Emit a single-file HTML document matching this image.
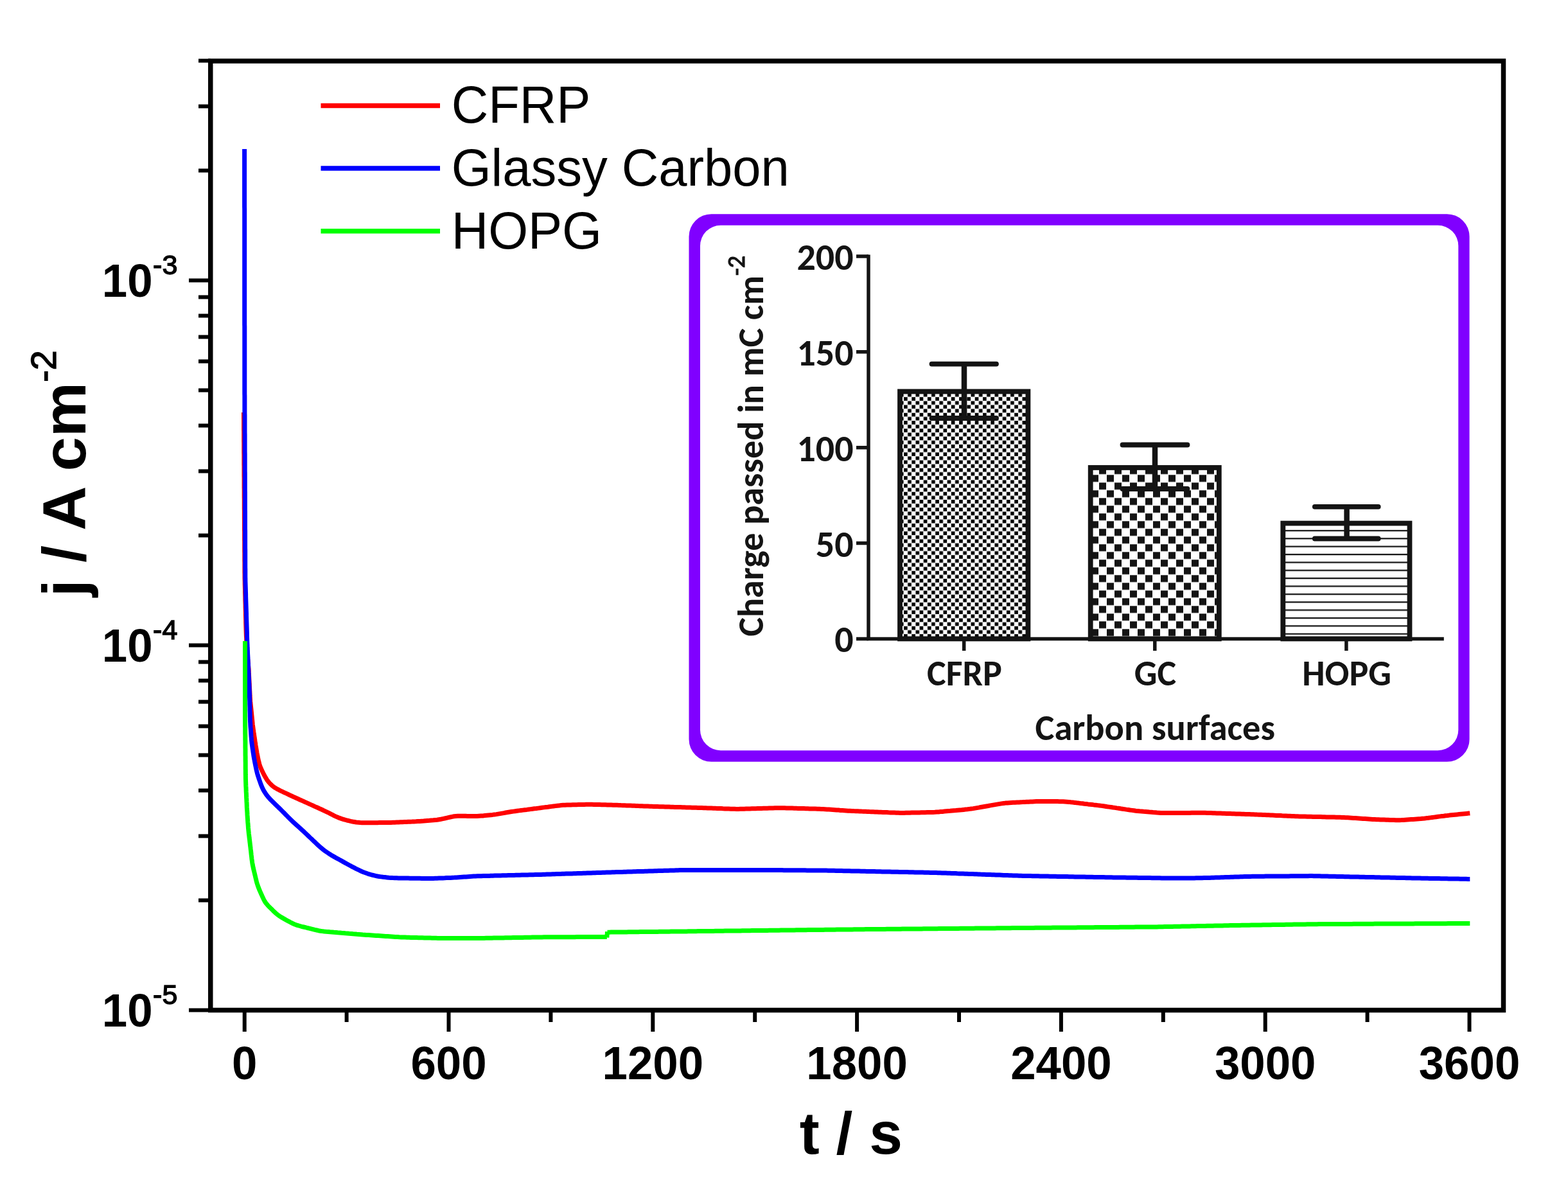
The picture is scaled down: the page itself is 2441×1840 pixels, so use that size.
<!DOCTYPE html><html><head><meta charset="utf-8"><style>html,body{margin:0;padding:0;background:#fff;}svg{display:block;}</style></head><body><svg width="2441" height="1840" viewBox="0 0 2441 1840">
<defs>
<pattern id="pCF" patternUnits="userSpaceOnUse" x="1407" y="704.3" width="12.3" height="12.3"><rect width="12.3" height="12.3" fill="#fff"/><rect x="0" y="0" width="5.7" height="5.6" fill="#000"/><rect x="6.15" y="6.15" width="5.7" height="5.6" fill="#000"/></pattern>
<pattern id="pGC" patternUnits="userSpaceOnUse" x="1711" y="751.3" width="24" height="24"><rect width="24" height="24" fill="#fff"/><rect x="0" y="0" width="11" height="10.8" fill="#141414"/><rect x="12" y="12" width="11" height="10.8" fill="#141414"/></pattern>
<pattern id="pHO" patternUnits="userSpaceOnUse" x="0" y="824.9" width="50" height="12.37"><rect width="50" height="12.37" fill="#fff"/><rect x="0" y="-0.15" width="50" height="2.4" fill="#141414"/></pattern>
</defs>
<rect width="2441" height="1840" fill="#fff"/>
<path d="M379.5,642.0 L379.5,645.0 L379.5,648.0 L379.5,651.0 L379.6,654.0 L379.6,657.0 L379.6,660.0 L379.6,663.0 L379.6,666.0 L379.6,669.0 L379.7,672.0 L379.7,675.0 L379.7,678.0 L379.7,681.0 L379.7,684.0 L379.7,687.0 L379.8,690.0 L379.8,693.0 L379.8,696.0 L379.8,699.0 L379.8,702.0 L379.8,705.0 L379.9,708.0 L379.9,711.0 L379.9,714.0 L379.9,717.0 L379.9,720.0 L379.9,723.0 L380.0,726.0 L380.0,729.0 L380.0,732.0 L380.0,735.0 L380.0,738.0 L380.0,741.0 L380.1,744.0 L380.1,747.0 L380.1,750.0 L380.1,753.0 L380.1,756.0 L380.1,759.0 L380.2,762.0 L380.2,765.0 L380.2,768.0 L380.2,771.0 L380.2,774.0 L380.3,777.0 L380.3,780.0 L380.3,783.0 L380.3,786.0 L380.3,789.0 L380.3,792.0 L380.4,795.0 L380.4,798.0 L380.4,801.0 L380.4,804.0 L380.4,807.0 L380.5,810.0 L380.5,813.0 L380.5,816.0 L380.5,819.0 L380.5,822.0 L380.5,825.0 L380.6,828.0 L380.6,831.0 L380.6,834.0 L380.6,837.0 L380.6,840.0 L380.7,843.0 L380.7,846.0 L380.7,849.0 L380.7,852.0 L380.7,855.0 L380.7,858.0 L380.8,861.0 L380.8,864.0 L380.8,867.0 L380.8,870.0 L380.8,873.0 L380.9,876.0 L380.9,879.0 L380.9,882.0 L380.9,885.0 L380.9,888.0 L380.9,891.0 L381.0,894.0 L381.0,897.0 L381.0,900.0 L381.1,903.0 L381.2,906.0 L381.2,909.0 L381.3,912.0 L381.4,915.0 L381.5,918.0 L381.5,921.0 L381.6,924.0 L381.7,927.0 L381.8,930.0 L381.8,933.0 L381.9,936.0 L382.0,939.0 L382.1,942.0 L382.1,945.0 L382.2,948.0 L382.3,951.0 L382.4,954.0 L382.4,957.0 L382.5,960.0 L382.6,963.0 L382.7,966.0 L382.7,969.0 L382.8,972.0 L382.9,975.0 L383.0,978.0 L383.1,981.0 L383.2,984.0 L383.3,987.0 L383.4,990.0 L383.6,993.0 L383.7,996.0 L383.8,999.0 L383.9,1002.0 L384.1,1005.0 L384.2,1008.0 L384.4,1011.0 L384.5,1014.0 L384.8,1017.0 L385.0,1020.0 L385.3,1022.9 L385.6,1025.9 L385.9,1028.9 L386.2,1031.9 L386.5,1034.9 L386.7,1037.9 L387.0,1040.9 L387.2,1043.9 L387.3,1046.9 L387.5,1049.9 L387.6,1052.8 L387.8,1055.8 L387.9,1058.8 L388.1,1061.8 L388.2,1064.8 L388.4,1067.8 L388.5,1070.8 L388.7,1073.8 L388.8,1076.8 L389.0,1079.8 L389.1,1082.8 L389.3,1085.8 L389.5,1088.8 L389.7,1091.8 L390.0,1094.8 L390.3,1097.8 L390.6,1100.8 L390.9,1103.7 L391.2,1106.7 L391.5,1109.7 L391.8,1112.7 L392.1,1115.7 L392.4,1118.7 L392.7,1121.7 L393.0,1124.6 L393.3,1127.6 L393.7,1130.6 L394.1,1133.6 L394.5,1136.5 L394.9,1139.5 L395.4,1142.5 L395.8,1145.4 L396.2,1148.4 L396.7,1151.4 L397.1,1154.3 L397.6,1157.3 L398.0,1160.3 L398.5,1163.2 L399.0,1166.2 L399.5,1169.2 L400.0,1172.1 L400.6,1175.1 L401.2,1178.0 L401.7,1180.9 L402.4,1183.9 L403.1,1186.8 L403.9,1189.7 L404.8,1192.5 L405.9,1195.2 L407.1,1198.0 L408.4,1200.7 L409.7,1203.4 L411.0,1206.1 L412.5,1208.7 L414.0,1211.3 L415.5,1213.8 L417.3,1216.2 L419.2,1218.5 L421.2,1220.7 L423.4,1222.7 L425.7,1224.6 L428.1,1226.3 L430.7,1227.8 L433.3,1229.2 L436.0,1230.6 L438.7,1231.9 L441.4,1233.2 L444.1,1234.4 L446.8,1235.7 L449.6,1237.0 L452.3,1238.3 L455.0,1239.5 L457.7,1240.8 L460.5,1242.0 L463.2,1243.2 L465.9,1244.5 L468.7,1245.7 L471.4,1246.9 L474.1,1248.2 L476.9,1249.4 L479.6,1250.6 L482.3,1251.9 L485.1,1253.1 L487.8,1254.3 L490.5,1255.6 L493.3,1256.8 L496.0,1258.0 L498.7,1259.3 L501.5,1260.5 L504.2,1261.8 L506.9,1263.1 L509.6,1264.4 L512.3,1265.7 L515.0,1267.1 L517.6,1268.4 L520.3,1269.8 L523.0,1271.1 L525.8,1272.3 L528.5,1273.4 L531.3,1274.4 L534.2,1275.3 L537.1,1276.2 L540.0,1277.0 L542.9,1277.7 L545.8,1278.4 L548.7,1279.0 L551.7,1279.5 L554.6,1280.0 L557.6,1280.3 L560.6,1280.6 L563.6,1280.7 L566.6,1280.8 L569.6,1280.8 L572.6,1280.8 L575.6,1280.8 L578.6,1280.7 L581.6,1280.7 L584.6,1280.7 L587.6,1280.7 L590.6,1280.6 L593.6,1280.6 L596.6,1280.6 L599.6,1280.6 L602.6,1280.5 L605.6,1280.5 L608.6,1280.4 L611.6,1280.3 L614.6,1280.2 L617.5,1280.1 L620.5,1280.0 L623.5,1279.8 L626.5,1279.7 L629.5,1279.6 L632.5,1279.5 L635.5,1279.3 L638.5,1279.2 L641.5,1279.1 L644.5,1278.9 L647.5,1278.8 L650.5,1278.6 L653.5,1278.4 L656.5,1278.2 L659.5,1278.0 L662.5,1277.7 L665.5,1277.5 L668.5,1277.3 L671.5,1277.0 L674.5,1276.8 L677.4,1276.5 L680.4,1276.2 L683.4,1275.7 L686.3,1275.2 L689.3,1274.6 L692.2,1274.0 L695.1,1273.3 L698.0,1272.6 L701.0,1272.0 L703.9,1271.4 L706.8,1270.8 L709.8,1270.5 L712.8,1270.3 L715.7,1270.2 L718.7,1270.2 L721.7,1270.3 L724.7,1270.3 L727.7,1270.4 L730.7,1270.4 L733.7,1270.5 L736.7,1270.5 L739.7,1270.5 L742.7,1270.5 L745.7,1270.3 L748.7,1270.1 L751.7,1269.9 L754.7,1269.6 L757.7,1269.3 L760.6,1269.0 L763.6,1268.7 L766.6,1268.4 L769.6,1268.0 L772.6,1267.6 L775.5,1267.1 L778.5,1266.6 L781.4,1266.1 L784.4,1265.6 L787.3,1265.0 L790.3,1264.5 L793.3,1264.0 L796.2,1263.5 L799.2,1263.1 L802.2,1262.7 L805.1,1262.3 L808.1,1261.9 L811.1,1261.5 L814.1,1261.1 L817.0,1260.7 L820.0,1260.4 L823.0,1260.0 L826.0,1259.6 L828.9,1259.2 L831.9,1258.8 L834.9,1258.5 L837.9,1258.1 L840.8,1257.7 L843.8,1257.3 L846.8,1256.9 L849.8,1256.5 L852.7,1256.2 L855.7,1255.8 L858.7,1255.4 L861.7,1255.0 L864.6,1254.6 L867.6,1254.2 L870.6,1253.9 L873.6,1253.6 L876.6,1253.3 L879.6,1253.2 L882.6,1253.0 L885.6,1253.0 L888.6,1252.9 L891.6,1252.8 L894.5,1252.7 L897.5,1252.7 L900.5,1252.6 L903.5,1252.5 L906.5,1252.4 L909.5,1252.4 L912.5,1252.3 L915.5,1252.3 L918.5,1252.3 L921.5,1252.3 L924.5,1252.4 L927.5,1252.5 L930.5,1252.6 L933.5,1252.6 L936.5,1252.7 L939.5,1252.8 L942.5,1252.8 L945.5,1252.9 L948.5,1253.0 L951.5,1253.1 L954.5,1253.2 L957.5,1253.2 L960.5,1253.3 L963.5,1253.4 L966.5,1253.6 L969.5,1253.7 L972.5,1253.8 L975.5,1253.9 L978.5,1254.0 L981.5,1254.1 L984.5,1254.2 L987.5,1254.3 L990.5,1254.4 L993.5,1254.6 L996.5,1254.7 L999.5,1254.8 L1002.5,1254.9 L1005.5,1255.0 L1008.5,1255.1 L1011.5,1255.2 L1014.5,1255.3 L1017.5,1255.4 L1020.5,1255.5 L1023.5,1255.6 L1026.5,1255.7 L1029.5,1255.7 L1032.5,1255.8 L1035.5,1255.9 L1038.5,1256.0 L1041.5,1256.1 L1044.5,1256.2 L1047.5,1256.3 L1050.5,1256.4 L1053.5,1256.4 L1056.5,1256.5 L1059.5,1256.6 L1062.5,1256.7 L1065.5,1256.8 L1068.5,1256.9 L1071.5,1257.0 L1074.5,1257.1 L1077.5,1257.2 L1080.5,1257.2 L1083.5,1257.3 L1086.5,1257.4 L1089.5,1257.5 L1092.5,1257.6 L1095.5,1257.7 L1098.5,1257.8 L1101.5,1257.9 L1104.5,1258.0 L1107.5,1258.1 L1110.5,1258.2 L1113.5,1258.3 L1116.5,1258.4 L1119.5,1258.5 L1122.5,1258.6 L1125.5,1258.8 L1128.5,1258.9 L1131.5,1259.0 L1134.5,1259.1 L1137.5,1259.2 L1140.5,1259.3 L1143.5,1259.3 L1146.5,1259.4 L1149.5,1259.4 L1152.5,1259.3 L1155.5,1259.3 L1158.5,1259.2 L1161.5,1259.1 L1164.5,1259.0 L1167.5,1258.9 L1170.5,1258.8 L1173.5,1258.8 L1176.4,1258.7 L1179.4,1258.6 L1182.4,1258.5 L1185.4,1258.4 L1188.4,1258.3 L1191.4,1258.2 L1194.4,1258.2 L1197.4,1258.1 L1200.4,1258.0 L1203.4,1257.9 L1206.4,1257.8 L1209.4,1257.8 L1212.4,1257.7 L1215.4,1257.7 L1218.4,1257.7 L1221.4,1257.8 L1224.4,1257.9 L1227.4,1258.0 L1230.4,1258.0 L1233.4,1258.1 L1236.4,1258.2 L1239.4,1258.3 L1242.4,1258.4 L1245.4,1258.5 L1248.4,1258.5 L1251.4,1258.6 L1254.4,1258.7 L1257.4,1258.8 L1260.4,1258.9 L1263.4,1259.0 L1266.4,1259.1 L1269.4,1259.1 L1272.4,1259.2 L1275.4,1259.3 L1278.4,1259.4 L1281.4,1259.5 L1284.4,1259.7 L1287.4,1259.9 L1290.4,1260.1 L1293.4,1260.3 L1296.4,1260.5 L1299.4,1260.7 L1302.4,1260.9 L1305.4,1261.1 L1308.4,1261.4 L1311.4,1261.6 L1314.3,1261.8 L1317.3,1262.0 L1320.3,1262.2 L1323.3,1262.3 L1326.3,1262.4 L1329.3,1262.6 L1332.3,1262.7 L1335.3,1262.8 L1338.3,1262.9 L1341.3,1263.1 L1344.3,1263.2 L1347.3,1263.3 L1350.3,1263.4 L1353.3,1263.6 L1356.3,1263.7 L1359.3,1263.8 L1362.3,1263.9 L1365.3,1264.0 L1368.3,1264.2 L1371.3,1264.3 L1374.3,1264.4 L1377.3,1264.5 L1380.3,1264.6 L1383.3,1264.8 L1386.3,1264.9 L1389.3,1265.0 L1392.3,1265.1 L1395.3,1265.2 L1398.3,1265.3 L1401.3,1265.4 L1404.3,1265.4 L1407.3,1265.4 L1410.3,1265.3 L1413.3,1265.3 L1416.3,1265.2 L1419.3,1265.1 L1422.3,1265.1 L1425.3,1265.0 L1428.3,1265.0 L1431.3,1264.9 L1434.3,1264.8 L1437.3,1264.8 L1440.3,1264.7 L1443.3,1264.6 L1446.3,1264.6 L1449.3,1264.5 L1452.3,1264.4 L1455.3,1264.3 L1458.3,1264.1 L1461.2,1263.9 L1464.2,1263.6 L1467.2,1263.4 L1470.2,1263.1 L1473.2,1262.8 L1476.2,1262.5 L1479.2,1262.3 L1482.2,1262.0 L1485.2,1261.7 L1488.1,1261.5 L1491.1,1261.2 L1494.1,1260.9 L1497.1,1260.7 L1500.1,1260.4 L1503.1,1260.1 L1506.1,1259.8 L1509.0,1259.4 L1512.0,1259.0 L1515.0,1258.6 L1517.9,1258.1 L1520.9,1257.6 L1523.8,1257.1 L1526.8,1256.5 L1529.8,1256.0 L1532.7,1255.5 L1535.7,1255.0 L1538.6,1254.5 L1541.6,1253.9 L1544.5,1253.4 L1547.5,1252.9 L1550.4,1252.4 L1553.4,1251.9 L1556.4,1251.4 L1559.3,1250.9 L1562.3,1250.5 L1565.3,1250.1 L1568.2,1249.9 L1571.2,1249.7 L1574.2,1249.5 L1577.2,1249.3 L1580.2,1249.2 L1583.2,1249.0 L1586.2,1248.9 L1589.2,1248.7 L1592.2,1248.6 L1595.2,1248.4 L1598.2,1248.3 L1601.2,1248.2 L1604.2,1248.0 L1607.2,1247.9 L1610.2,1247.7 L1613.2,1247.6 L1616.2,1247.5 L1619.2,1247.4 L1622.2,1247.4 L1625.2,1247.4 L1628.2,1247.4 L1631.2,1247.5 L1634.2,1247.5 L1637.2,1247.5 L1640.2,1247.6 L1643.2,1247.6 L1646.2,1247.6 L1649.2,1247.7 L1652.2,1247.7 L1655.2,1247.8 L1658.2,1248.0 L1661.2,1248.2 L1664.1,1248.4 L1667.1,1248.8 L1670.1,1249.1 L1673.1,1249.4 L1676.1,1249.8 L1679.0,1250.1 L1682.0,1250.5 L1685.0,1250.8 L1688.0,1251.2 L1691.0,1251.5 L1693.9,1251.9 L1696.9,1252.2 L1699.9,1252.5 L1702.9,1252.9 L1705.9,1253.2 L1708.8,1253.6 L1711.8,1254.0 L1714.8,1254.4 L1717.8,1254.8 L1720.7,1255.2 L1723.7,1255.7 L1726.7,1256.1 L1729.6,1256.5 L1732.6,1257.0 L1735.6,1257.4 L1738.5,1257.9 L1741.5,1258.3 L1744.5,1258.8 L1747.4,1259.2 L1750.4,1259.6 L1753.4,1260.1 L1756.3,1260.5 L1759.3,1261.0 L1762.3,1261.4 L1765.3,1261.8 L1768.2,1262.2 L1771.2,1262.5 L1774.2,1262.8 L1777.2,1263.0 L1780.2,1263.3 L1783.2,1263.5 L1786.2,1263.8 L1789.1,1264.1 L1792.1,1264.3 L1795.1,1264.6 L1798.1,1264.8 L1801.1,1265.1 L1804.1,1265.3 L1807.1,1265.5 L1810.1,1265.6 L1813.1,1265.6 L1816.1,1265.6 L1819.1,1265.6 L1822.1,1265.6 L1825.1,1265.6 L1828.1,1265.5 L1831.1,1265.5 L1834.1,1265.5 L1837.1,1265.5 L1840.1,1265.5 L1843.1,1265.4 L1846.1,1265.4 L1849.1,1265.4 L1852.1,1265.4 L1855.1,1265.3 L1858.1,1265.3 L1861.1,1265.3 L1864.1,1265.3 L1867.1,1265.3 L1870.1,1265.3 L1873.1,1265.3 L1876.1,1265.3 L1879.1,1265.4 L1882.1,1265.5 L1885.1,1265.6 L1888.1,1265.7 L1891.1,1265.8 L1894.1,1265.9 L1897.1,1266.0 L1900.1,1266.1 L1903.1,1266.2 L1906.1,1266.3 L1909.1,1266.4 L1912.1,1266.5 L1915.1,1266.6 L1918.1,1266.7 L1921.1,1266.8 L1924.1,1266.9 L1927.1,1267.0 L1930.1,1267.1 L1933.1,1267.2 L1936.1,1267.3 L1939.1,1267.4 L1942.1,1267.5 L1945.1,1267.6 L1948.1,1267.7 L1951.1,1267.8 L1954.0,1267.9 L1957.0,1268.1 L1960.0,1268.2 L1963.0,1268.3 L1966.0,1268.5 L1969.0,1268.6 L1972.0,1268.7 L1975.0,1268.8 L1978.0,1269.0 L1981.0,1269.1 L1984.0,1269.2 L1987.0,1269.4 L1990.0,1269.5 L1993.0,1269.6 L1996.0,1269.8 L1999.0,1269.9 L2002.0,1270.0 L2005.0,1270.2 L2008.0,1270.3 L2011.0,1270.4 L2014.0,1270.5 L2017.0,1270.7 L2020.0,1270.8 L2023.0,1270.9 L2026.0,1270.9 L2029.0,1271.0 L2032.0,1271.1 L2035.0,1271.2 L2038.0,1271.2 L2041.0,1271.3 L2044.0,1271.4 L2047.0,1271.4 L2050.0,1271.5 L2053.0,1271.6 L2056.0,1271.6 L2059.0,1271.7 L2062.0,1271.8 L2065.0,1271.9 L2068.0,1271.9 L2071.0,1272.0 L2074.0,1272.1 L2077.0,1272.1 L2080.0,1272.2 L2083.0,1272.3 L2086.0,1272.3 L2089.0,1272.4 L2092.0,1272.5 L2095.0,1272.7 L2098.0,1272.8 L2101.0,1273.0 L2104.0,1273.2 L2107.0,1273.4 L2109.9,1273.6 L2112.9,1273.8 L2115.9,1274.0 L2118.9,1274.2 L2121.9,1274.4 L2124.9,1274.6 L2127.9,1274.8 L2130.9,1275.0 L2133.9,1275.2 L2136.9,1275.4 L2139.9,1275.5 L2142.9,1275.7 L2145.9,1275.8 L2148.9,1275.9 L2151.9,1276.0 L2154.9,1276.1 L2157.9,1276.2 L2160.9,1276.3 L2163.9,1276.4 L2166.9,1276.5 L2169.9,1276.6 L2172.9,1276.7 L2175.9,1276.7 L2178.9,1276.7 L2181.9,1276.6 L2184.9,1276.4 L2187.8,1276.2 L2190.8,1276.0 L2193.8,1275.8 L2196.8,1275.6 L2199.8,1275.4 L2202.8,1275.2 L2205.8,1275.0 L2208.8,1274.8 L2211.8,1274.6 L2214.8,1274.3 L2217.8,1274.0 L2220.7,1273.6 L2223.7,1273.3 L2226.7,1272.9 L2229.7,1272.5 L2232.6,1272.1 L2235.6,1271.7 L2238.6,1271.3 L2241.6,1270.9 L2244.5,1270.5 L2247.5,1270.2 L2250.5,1269.8 L2253.5,1269.5 L2256.5,1269.1 L2259.4,1268.8 L2262.4,1268.5 L2265.4,1268.2 L2268.4,1267.9 L2271.4,1267.6 L2274.4,1267.3 L2277.4,1267.0 L2280.3,1266.7 L2283.3,1266.4 L2286.3,1266.1 L2288.3,1265.9" fill="none" stroke="#ff0000" stroke-width="7" stroke-linejoin="round"/>
<path d="M380.6,232.0 L380.6,235.0 L380.6,238.0 L380.6,241.0 L380.6,244.0 L380.6,247.0 L380.6,250.0 L380.6,253.0 L380.6,256.0 L380.6,259.0 L380.6,262.0 L380.6,265.0 L380.6,268.0 L380.6,271.0 L380.6,274.0 L380.6,277.0 L380.6,280.0 L380.6,283.0 L380.6,286.0 L380.6,289.0 L380.6,292.0 L380.6,295.0 L380.6,298.0 L380.6,301.0 L380.6,304.0 L380.6,307.0 L380.6,310.0 L380.6,313.0 L380.6,316.0 L380.6,319.0 L380.6,322.0 L380.7,325.0 L380.7,328.0 L380.7,331.0 L380.7,334.0 L380.7,337.0 L380.7,340.0 L380.7,343.0 L380.7,346.0 L380.7,349.0 L380.7,352.0 L380.7,355.0 L380.7,358.0 L380.7,361.0 L380.7,364.0 L380.7,367.0 L380.7,370.0 L380.7,373.0 L380.7,376.0 L380.7,379.0 L380.7,382.0 L380.7,385.0 L380.7,388.0 L380.7,391.0 L380.7,394.0 L380.7,397.0 L380.7,400.0 L380.7,403.0 L380.7,406.0 L380.7,409.0 L380.7,412.0 L380.7,415.0 L380.7,418.0 L380.7,421.0 L380.7,424.0 L380.7,427.0 L380.7,430.0 L380.7,433.0 L380.7,436.0 L380.7,439.0 L380.7,442.0 L380.7,445.0 L380.7,448.0 L380.7,451.0 L380.7,454.0 L380.7,457.1 L380.7,460.1 L380.7,463.1 L380.7,466.1 L380.7,469.1 L380.7,472.1 L380.7,475.1 L380.7,478.1 L380.7,481.1 L380.7,484.1 L380.7,487.1 L380.7,490.1 L380.7,493.1 L380.7,496.1 L380.7,499.1 L380.7,502.1 L380.7,505.1 L380.8,508.1 L380.8,511.1 L380.8,514.1 L380.8,517.1 L380.8,520.1 L380.8,523.1 L380.8,526.1 L380.8,529.1 L380.8,532.1 L380.8,535.1 L380.8,538.1 L380.8,541.1 L380.8,544.1 L380.8,547.1 L380.8,550.1 L380.8,553.1 L380.8,556.1 L380.8,559.1 L380.8,562.1 L380.8,565.1 L380.8,568.1 L380.8,571.1 L380.8,574.1 L380.8,577.1 L380.8,580.1 L380.8,583.1 L380.8,586.1 L380.8,589.1 L380.8,592.1 L380.8,595.1 L380.8,598.1 L380.8,601.1 L380.8,604.1 L380.8,607.1 L380.8,610.1 L380.8,613.1 L380.9,616.1 L380.9,619.1 L380.9,622.1 L380.9,625.1 L380.9,628.1 L380.9,631.1 L380.9,634.1 L380.9,637.1 L380.9,640.1 L380.9,643.1 L381.0,646.1 L381.0,649.1 L381.0,652.1 L381.0,655.1 L381.0,658.1 L381.0,661.1 L381.0,664.1 L381.0,667.1 L381.0,670.1 L381.0,673.1 L381.1,676.1 L381.1,679.1 L381.1,682.1 L381.1,685.1 L381.1,688.1 L381.1,691.1 L381.1,694.1 L381.1,697.1 L381.1,700.1 L381.1,703.1 L381.2,706.1 L381.2,709.1 L381.2,712.1 L381.2,715.1 L381.2,718.1 L381.2,721.1 L381.2,724.1 L381.2,727.1 L381.2,730.1 L381.2,733.1 L381.3,736.1 L381.3,739.1 L381.3,742.1 L381.3,745.1 L381.3,748.1 L381.3,751.1 L381.3,754.1 L381.3,757.1 L381.3,760.1 L381.3,763.1 L381.4,766.1 L381.4,769.1 L381.4,772.1 L381.4,775.1 L381.4,778.1 L381.4,781.1 L381.4,784.1 L381.4,787.1 L381.4,790.1 L381.4,793.1 L381.5,796.1 L381.5,799.1 L381.5,802.1 L381.5,805.1 L381.5,808.1 L381.5,811.1 L381.5,814.1 L381.5,817.1 L381.5,820.1 L381.5,823.1 L381.6,826.1 L381.6,829.1 L381.6,832.1 L381.6,835.1 L381.6,838.1 L381.6,841.1 L381.6,844.1 L381.6,847.1 L381.6,850.1 L381.6,853.1 L381.7,856.1 L381.7,859.1 L381.7,862.1 L381.7,865.1 L381.7,868.1 L381.7,871.1 L381.7,874.1 L381.7,877.1 L381.7,880.1 L381.7,883.1 L381.8,886.1 L381.8,889.1 L381.8,892.1 L381.8,895.1 L381.8,898.1 L381.9,901.1 L381.9,904.1 L382.0,907.1 L382.1,910.1 L382.2,913.1 L382.3,916.1 L382.4,919.1 L382.5,922.1 L382.6,925.1 L382.6,928.1 L382.7,931.1 L382.8,934.1 L382.9,937.1 L383.0,940.1 L383.1,943.1 L383.2,946.1 L383.3,949.1 L383.4,952.1 L383.5,955.1 L383.5,958.1 L383.6,961.1 L383.7,964.1 L383.8,967.1 L383.9,970.1 L384.0,973.1 L384.1,976.1 L384.2,979.1 L384.3,982.1 L384.4,985.1 L384.4,988.1 L384.5,991.1 L384.6,994.1 L384.7,997.1 L384.8,1000.1 L385.0,1003.1 L385.1,1006.1 L385.2,1009.1 L385.4,1012.1 L385.5,1015.1 L385.6,1018.1 L385.8,1021.1 L385.9,1024.1 L386.1,1027.1 L386.2,1030.1 L386.3,1033.1 L386.5,1036.1 L386.6,1039.1 L386.7,1042.1 L386.9,1045.1 L387.0,1048.1 L387.2,1051.1 L387.3,1054.1 L387.4,1057.1 L387.6,1060.1 L387.7,1063.1 L387.8,1066.1 L388.0,1069.1 L388.1,1072.1 L388.2,1075.1 L388.4,1078.1 L388.5,1081.1 L388.5,1084.1 L388.6,1087.1 L388.7,1090.1 L388.8,1093.1 L388.8,1096.1 L388.9,1099.1 L389.0,1102.1 L389.0,1105.1 L389.1,1108.1 L389.2,1111.1 L389.2,1114.1 L389.3,1117.1 L389.4,1120.1 L389.5,1123.1 L389.7,1126.1 L389.8,1129.0 L390.0,1132.0 L390.3,1135.0 L390.5,1138.0 L390.7,1141.0 L390.9,1144.0 L391.1,1147.0 L391.4,1150.0 L391.6,1153.0 L391.9,1156.0 L392.3,1158.9 L392.7,1161.9 L393.1,1164.9 L393.6,1167.8 L394.0,1170.8 L394.5,1173.8 L394.9,1176.7 L395.4,1179.7 L396.0,1182.7 L396.5,1185.6 L397.1,1188.5 L397.7,1191.5 L398.3,1194.4 L398.9,1197.4 L399.6,1200.3 L400.3,1203.2 L401.1,1206.1 L402.0,1208.9 L402.9,1211.8 L403.9,1214.6 L404.9,1217.4 L405.9,1220.3 L407.0,1223.1 L408.1,1225.8 L409.4,1228.5 L410.8,1231.1 L412.4,1233.7 L414.0,1236.2 L415.8,1238.6 L417.7,1240.9 L419.7,1243.1 L421.7,1245.3 L423.8,1247.4 L426.0,1249.5 L428.1,1251.6 L430.3,1253.7 L432.4,1255.8 L434.6,1257.9 L436.8,1260.0 L438.9,1262.1 L441.0,1264.2 L443.1,1266.3 L445.2,1268.5 L447.3,1270.6 L449.4,1272.8 L451.5,1274.9 L453.7,1277.0 L455.9,1279.1 L458.1,1281.1 L460.3,1283.1 L462.5,1285.1 L464.8,1287.1 L467.0,1289.1 L469.2,1291.1 L471.4,1293.2 L473.6,1295.2 L475.8,1297.3 L477.9,1299.3 L480.1,1301.4 L482.3,1303.5 L484.5,1305.5 L486.7,1307.6 L488.8,1309.7 L491.0,1311.7 L493.2,1313.8 L495.4,1315.8 L497.6,1317.8 L499.9,1319.8 L502.2,1321.7 L504.5,1323.6 L507.0,1325.3 L509.4,1327.0 L511.9,1328.7 L514.4,1330.3 L517.0,1331.9 L519.6,1333.4 L522.2,1334.9 L524.8,1336.3 L527.5,1337.7 L530.1,1339.2 L532.7,1340.6 L535.3,1342.1 L538.0,1343.6 L540.6,1345.0 L543.2,1346.5 L545.9,1347.9 L548.5,1349.3 L551.2,1350.7 L553.8,1352.1 L556.5,1353.4 L559.2,1354.7 L561.9,1356.0 L564.7,1357.2 L567.5,1358.3 L570.3,1359.3 L573.1,1360.3 L576.0,1361.2 L578.9,1362.0 L581.8,1362.7 L584.7,1363.4 L587.6,1364.0 L590.6,1364.5 L593.5,1364.9 L596.5,1365.3 L599.5,1365.6 L602.5,1365.9 L605.4,1366.2 L608.4,1366.4 L611.4,1366.6 L614.4,1366.7 L617.4,1366.8 L620.4,1366.9 L623.4,1366.9 L626.4,1367.0 L629.4,1367.0 L632.4,1367.1 L635.4,1367.1 L638.4,1367.2 L641.4,1367.2 L644.4,1367.2 L647.4,1367.3 L650.4,1367.3 L653.4,1367.3 L656.4,1367.4 L659.4,1367.4 L662.4,1367.4 L665.4,1367.4 L668.4,1367.4 L671.4,1367.4 L674.4,1367.4 L677.4,1367.3 L680.4,1367.2 L683.4,1367.1 L686.4,1367.0 L689.4,1366.9 L692.4,1366.8 L695.4,1366.6 L698.4,1366.5 L701.4,1366.4 L704.4,1366.2 L707.4,1366.1 L710.4,1365.9 L713.4,1365.7 L716.4,1365.5 L719.4,1365.3 L722.4,1365.1 L725.4,1364.9 L728.4,1364.7 L731.4,1364.5 L734.4,1364.3 L737.3,1364.1 L740.3,1364.0 L743.3,1363.8 L746.3,1363.8 L749.3,1363.7 L752.3,1363.6 L755.3,1363.5 L758.3,1363.4 L761.3,1363.4 L764.3,1363.3 L767.3,1363.2 L770.3,1363.1 L773.3,1363.1 L776.3,1363.0 L779.3,1362.9 L782.3,1362.8 L785.3,1362.8 L788.3,1362.7 L791.3,1362.6 L794.3,1362.5 L797.3,1362.5 L800.3,1362.4 L803.3,1362.3 L806.3,1362.2 L809.3,1362.2 L812.3,1362.1 L815.3,1362.0 L818.3,1362.0 L821.3,1361.9 L824.3,1361.8 L827.3,1361.7 L830.3,1361.7 L833.3,1361.6 L836.3,1361.5 L839.3,1361.4 L842.3,1361.4 L845.3,1361.3 L848.3,1361.2 L851.3,1361.1 L854.3,1361.0 L857.3,1360.9 L860.3,1360.8 L863.3,1360.7 L866.3,1360.6 L869.3,1360.5 L872.3,1360.4 L875.3,1360.3 L878.3,1360.2 L881.3,1360.1 L884.3,1360.0 L887.3,1359.9 L890.3,1359.9 L893.3,1359.8 L896.3,1359.7 L899.3,1359.6 L902.3,1359.5 L905.3,1359.4 L908.3,1359.3 L911.3,1359.2 L914.3,1359.1 L917.3,1359.0 L920.3,1358.9 L923.3,1358.8 L926.3,1358.7 L929.3,1358.6 L932.3,1358.5 L935.3,1358.4 L938.3,1358.3 L941.3,1358.2 L944.3,1358.1 L947.3,1358.0 L950.3,1357.9 L953.3,1357.8 L956.3,1357.7 L959.3,1357.6 L962.3,1357.5 L965.3,1357.4 L968.3,1357.4 L971.3,1357.3 L974.3,1357.2 L977.3,1357.1 L980.3,1357.0 L983.3,1356.9 L986.3,1356.8 L989.3,1356.7 L992.3,1356.6 L995.3,1356.5 L998.3,1356.4 L1001.3,1356.4 L1004.3,1356.3 L1007.3,1356.2 L1010.3,1356.1 L1013.3,1356.0 L1016.3,1355.9 L1019.3,1355.8 L1022.3,1355.7 L1025.3,1355.6 L1028.3,1355.5 L1031.3,1355.4 L1034.3,1355.3 L1037.3,1355.3 L1040.3,1355.2 L1043.3,1355.1 L1046.3,1355.0 L1049.3,1354.9 L1052.3,1354.8 L1055.3,1354.7 L1058.3,1354.6 L1061.3,1354.5 L1064.3,1354.5 L1067.3,1354.4 L1070.3,1354.4 L1073.3,1354.4 L1076.3,1354.4 L1079.3,1354.4 L1082.3,1354.4 L1085.3,1354.4 L1088.3,1354.4 L1091.3,1354.4 L1094.3,1354.4 L1097.3,1354.4 L1100.3,1354.4 L1103.3,1354.4 L1106.3,1354.4 L1109.3,1354.4 L1112.3,1354.4 L1115.3,1354.4 L1118.3,1354.4 L1121.3,1354.4 L1124.3,1354.4 L1127.3,1354.4 L1130.3,1354.4 L1133.3,1354.4 L1136.3,1354.4 L1139.3,1354.4 L1142.3,1354.4 L1145.3,1354.4 L1148.3,1354.4 L1151.3,1354.4 L1154.3,1354.4 L1157.3,1354.4 L1160.3,1354.4 L1163.3,1354.4 L1166.3,1354.4 L1169.3,1354.4 L1172.3,1354.4 L1175.3,1354.4 L1178.3,1354.4 L1181.3,1354.4 L1184.3,1354.5 L1187.3,1354.5 L1190.3,1354.5 L1193.3,1354.5 L1196.3,1354.5 L1199.3,1354.5 L1202.3,1354.6 L1205.3,1354.6 L1208.3,1354.6 L1211.3,1354.6 L1214.3,1354.6 L1217.3,1354.6 L1220.3,1354.7 L1223.3,1354.7 L1226.3,1354.7 L1229.3,1354.7 L1232.3,1354.7 L1235.3,1354.7 L1238.3,1354.8 L1241.3,1354.8 L1244.3,1354.8 L1247.3,1354.8 L1250.3,1354.8 L1253.3,1354.8 L1256.3,1354.9 L1259.3,1354.9 L1262.3,1354.9 L1265.3,1354.9 L1268.3,1354.9 L1271.3,1354.9 L1274.3,1355.0 L1277.3,1355.0 L1280.3,1355.0 L1283.3,1355.0 L1286.3,1355.1 L1289.3,1355.2 L1292.3,1355.2 L1295.3,1355.3 L1298.3,1355.3 L1301.3,1355.4 L1304.3,1355.5 L1307.3,1355.5 L1310.3,1355.6 L1313.3,1355.7 L1316.3,1355.7 L1319.3,1355.8 L1322.3,1355.8 L1325.3,1355.9 L1328.3,1356.0 L1331.3,1356.0 L1334.3,1356.1 L1337.3,1356.1 L1340.3,1356.2 L1343.3,1356.3 L1346.3,1356.3 L1349.3,1356.4 L1352.3,1356.4 L1355.3,1356.5 L1358.3,1356.6 L1361.3,1356.6 L1364.3,1356.7 L1367.3,1356.7 L1370.3,1356.8 L1373.3,1356.9 L1376.3,1356.9 L1379.3,1357.0 L1382.3,1357.0 L1385.3,1357.1 L1388.3,1357.2 L1391.3,1357.2 L1394.3,1357.3 L1397.3,1357.3 L1400.3,1357.4 L1403.3,1357.5 L1406.3,1357.5 L1409.3,1357.6 L1412.3,1357.6 L1415.3,1357.7 L1418.3,1357.8 L1421.3,1357.8 L1424.3,1357.9 L1427.3,1357.9 L1430.3,1358.0 L1433.3,1358.1 L1436.3,1358.1 L1439.3,1358.2 L1442.3,1358.2 L1445.3,1358.3 L1448.3,1358.4 L1451.3,1358.4 L1454.3,1358.5 L1457.3,1358.6 L1460.3,1358.7 L1463.3,1358.8 L1466.3,1358.9 L1469.3,1359.0 L1472.3,1359.1 L1475.3,1359.2 L1478.3,1359.3 L1481.3,1359.4 L1484.3,1359.5 L1487.3,1359.6 L1490.3,1359.8 L1493.3,1359.9 L1496.3,1360.0 L1499.3,1360.1 L1502.3,1360.2 L1505.3,1360.3 L1508.3,1360.4 L1511.3,1360.5 L1514.3,1360.6 L1517.3,1360.7 L1520.3,1360.8 L1523.3,1360.9 L1526.3,1361.1 L1529.3,1361.2 L1532.3,1361.3 L1535.3,1361.4 L1538.3,1361.5 L1541.3,1361.6 L1544.3,1361.7 L1547.3,1361.8 L1550.3,1361.9 L1553.3,1362.0 L1556.3,1362.1 L1559.3,1362.2 L1562.3,1362.4 L1565.3,1362.5 L1568.3,1362.6 L1571.3,1362.7 L1574.3,1362.8 L1577.3,1362.9 L1580.3,1363.0 L1583.3,1363.1 L1586.3,1363.2 L1589.3,1363.3 L1592.3,1363.4 L1595.3,1363.5 L1598.3,1363.5 L1601.3,1363.6 L1604.3,1363.6 L1607.3,1363.7 L1610.3,1363.7 L1613.3,1363.8 L1616.3,1363.8 L1619.3,1363.9 L1622.3,1363.9 L1625.3,1364.0 L1628.3,1364.1 L1631.3,1364.1 L1634.3,1364.2 L1637.3,1364.2 L1640.3,1364.3 L1643.3,1364.3 L1646.3,1364.4 L1649.3,1364.4 L1652.3,1364.5 L1655.3,1364.5 L1658.3,1364.6 L1661.3,1364.6 L1664.3,1364.7 L1667.3,1364.7 L1670.3,1364.8 L1673.3,1364.9 L1676.3,1364.9 L1679.3,1365.0 L1682.3,1365.0 L1685.3,1365.1 L1688.3,1365.1 L1691.3,1365.2 L1694.3,1365.2 L1697.3,1365.3 L1700.3,1365.3 L1703.3,1365.4 L1706.3,1365.4 L1709.3,1365.5 L1712.3,1365.5 L1715.3,1365.6 L1718.3,1365.6 L1721.3,1365.7 L1724.3,1365.8 L1727.3,1365.8 L1730.3,1365.8 L1733.3,1365.9 L1736.3,1365.9 L1739.3,1366.0 L1742.3,1366.0 L1745.3,1366.0 L1748.3,1366.1 L1751.3,1366.1 L1754.3,1366.2 L1757.3,1366.2 L1760.3,1366.2 L1763.3,1366.3 L1766.3,1366.3 L1769.3,1366.3 L1772.3,1366.4 L1775.3,1366.4 L1778.3,1366.5 L1781.3,1366.5 L1784.3,1366.5 L1787.3,1366.6 L1790.3,1366.6 L1793.3,1366.7 L1796.3,1366.7 L1799.3,1366.7 L1802.3,1366.8 L1805.3,1366.8 L1808.3,1366.9 L1811.3,1366.9 L1814.3,1366.9 L1817.3,1367.0 L1820.3,1367.0 L1823.3,1367.0 L1826.3,1367.1 L1829.3,1367.1 L1832.3,1367.1 L1835.3,1367.1 L1838.3,1367.1 L1841.3,1367.1 L1844.3,1367.1 L1847.3,1367.0 L1850.3,1367.0 L1853.3,1367.0 L1856.3,1366.9 L1859.3,1366.9 L1862.3,1366.8 L1865.3,1366.8 L1868.3,1366.8 L1871.3,1366.7 L1874.3,1366.6 L1877.3,1366.6 L1880.3,1366.5 L1883.3,1366.4 L1886.3,1366.3 L1889.3,1366.2 L1892.3,1366.1 L1895.3,1366.0 L1898.3,1365.9 L1901.3,1365.8 L1904.3,1365.7 L1907.3,1365.6 L1910.3,1365.5 L1913.3,1365.4 L1916.3,1365.3 L1919.3,1365.2 L1922.3,1365.1 L1925.3,1365.0 L1928.3,1364.9 L1931.3,1364.8 L1934.3,1364.7 L1937.3,1364.6 L1940.3,1364.5 L1943.3,1364.4 L1946.3,1364.4 L1949.3,1364.3 L1952.3,1364.3 L1955.3,1364.2 L1958.3,1364.2 L1961.3,1364.2 L1964.3,1364.2 L1967.3,1364.2 L1970.3,1364.1 L1973.3,1364.1 L1976.3,1364.1 L1979.3,1364.1 L1982.3,1364.0 L1985.3,1364.0 L1988.3,1364.0 L1991.3,1364.0 L1994.3,1364.0 L1997.3,1363.9 L2000.3,1363.9 L2003.3,1363.9 L2006.3,1363.9 L2009.3,1363.8 L2012.3,1363.8 L2015.3,1363.8 L2018.3,1363.8 L2021.3,1363.8 L2024.3,1363.7 L2027.3,1363.7 L2030.3,1363.7 L2033.3,1363.7 L2036.3,1363.7 L2039.3,1363.6 L2042.3,1363.6 L2045.3,1363.7 L2048.3,1363.7 L2051.3,1363.8 L2054.3,1363.8 L2057.3,1363.9 L2060.3,1364.0 L2063.3,1364.0 L2066.3,1364.1 L2069.3,1364.2 L2072.3,1364.2 L2075.3,1364.3 L2078.3,1364.3 L2081.3,1364.4 L2084.3,1364.5 L2087.3,1364.5 L2090.3,1364.6 L2093.3,1364.7 L2096.3,1364.7 L2099.3,1364.8 L2102.3,1364.9 L2105.3,1364.9 L2108.3,1365.0 L2111.3,1365.1 L2114.3,1365.1 L2117.3,1365.2 L2120.3,1365.3 L2123.3,1365.3 L2126.3,1365.4 L2129.3,1365.4 L2132.3,1365.5 L2135.3,1365.6 L2138.3,1365.6 L2141.3,1365.7 L2144.3,1365.8 L2147.3,1365.8 L2150.3,1365.9 L2153.3,1365.9 L2156.3,1366.0 L2159.3,1366.1 L2162.3,1366.1 L2165.3,1366.2 L2168.3,1366.2 L2171.3,1366.3 L2174.3,1366.4 L2177.3,1366.4 L2180.3,1366.5 L2183.3,1366.6 L2186.3,1366.6 L2189.3,1366.7 L2192.3,1366.7 L2195.3,1366.8 L2198.3,1366.9 L2201.3,1366.9 L2204.3,1367.0 L2207.3,1367.0 L2210.3,1367.1 L2213.3,1367.2 L2216.3,1367.2 L2219.3,1367.3 L2222.3,1367.3 L2225.3,1367.4 L2228.3,1367.4 L2231.3,1367.5 L2234.3,1367.5 L2237.3,1367.6 L2240.3,1367.6 L2243.3,1367.7 L2246.3,1367.7 L2249.3,1367.8 L2252.3,1367.8 L2255.3,1367.9 L2258.3,1367.9 L2261.3,1368.0 L2264.3,1368.0 L2267.3,1368.1 L2270.3,1368.1 L2273.3,1368.2 L2276.3,1368.2 L2279.3,1368.3 L2282.3,1368.3 L2285.3,1368.4 L2288.3,1368.4" fill="none" stroke="#0000ff" stroke-width="7" stroke-linejoin="round"/>
<path d="M381.5,998.0 L381.5,1001.0 L381.5,1004.0 L381.5,1007.0 L381.5,1010.0 L381.5,1013.0 L381.5,1016.0 L381.5,1019.0 L381.5,1022.0 L381.5,1025.0 L381.5,1028.0 L381.5,1031.0 L381.5,1034.0 L381.5,1037.0 L381.5,1040.0 L381.5,1043.0 L381.5,1046.0 L381.5,1049.0 L381.5,1052.0 L381.5,1055.0 L381.5,1058.1 L381.5,1061.1 L381.5,1064.1 L381.5,1067.1 L381.5,1070.1 L381.5,1073.1 L381.5,1076.1 L381.5,1079.1 L381.5,1082.1 L381.5,1085.1 L381.5,1088.1 L381.5,1091.1 L381.5,1094.1 L381.5,1097.1 L381.5,1100.1 L381.5,1103.1 L381.5,1106.1 L381.5,1109.1 L381.5,1112.1 L381.5,1115.1 L381.5,1118.1 L381.6,1121.1 L381.6,1124.1 L381.6,1127.1 L381.6,1130.1 L381.7,1133.1 L381.7,1136.1 L381.7,1139.1 L381.7,1142.1 L381.8,1145.1 L381.8,1148.1 L381.8,1151.1 L381.9,1154.1 L381.9,1157.1 L381.9,1160.1 L381.9,1163.1 L382.0,1166.1 L382.0,1169.1 L382.0,1172.1 L382.0,1175.1 L382.1,1178.2 L382.1,1181.2 L382.1,1184.2 L382.2,1187.2 L382.2,1190.2 L382.2,1193.2 L382.2,1196.2 L382.3,1199.2 L382.3,1202.2 L382.3,1205.2 L382.4,1208.2 L382.4,1211.2 L382.5,1214.2 L382.6,1217.2 L382.7,1220.2 L382.8,1223.2 L383.0,1226.2 L383.1,1229.2 L383.2,1232.2 L383.4,1235.2 L383.5,1238.2 L383.6,1241.2 L383.8,1244.2 L383.9,1247.2 L384.1,1250.2 L384.2,1253.2 L384.3,1256.2 L384.5,1259.2 L384.7,1262.2 L384.9,1265.2 L385.0,1268.2 L385.2,1271.2 L385.4,1274.2 L385.6,1277.1 L385.8,1280.1 L386.1,1283.1 L386.3,1286.1 L386.5,1289.1 L386.8,1292.1 L387.1,1295.1 L387.4,1298.1 L387.8,1301.1 L388.1,1304.0 L388.5,1307.0 L388.8,1310.0 L389.2,1313.0 L389.5,1316.0 L389.9,1319.0 L390.2,1321.9 L390.6,1324.9 L390.9,1327.9 L391.2,1330.9 L391.6,1333.9 L391.9,1336.9 L392.3,1339.8 L392.7,1342.8 L393.2,1345.8 L393.8,1348.7 L394.4,1351.6 L395.1,1354.6 L395.8,1357.5 L396.5,1360.4 L397.2,1363.3 L397.9,1366.2 L398.6,1369.1 L399.3,1372.1 L400.1,1375.0 L401.0,1377.8 L402.0,1380.6 L403.1,1383.4 L404.2,1386.2 L405.4,1388.9 L406.7,1391.7 L407.9,1394.4 L409.1,1397.1 L410.4,1399.8 L411.8,1402.5 L413.4,1405.0 L415.2,1407.3 L417.1,1409.6 L419.2,1411.7 L421.3,1413.8 L423.5,1415.9 L425.6,1418.1 L427.8,1420.1 L430.0,1422.1 L432.3,1424.0 L434.7,1425.8 L437.2,1427.4 L439.8,1428.9 L442.4,1430.4 L445.0,1431.9 L447.6,1433.3 L450.2,1434.7 L452.9,1436.2 L455.6,1437.5 L458.3,1438.7 L461.1,1439.8 L463.9,1440.7 L466.8,1441.5 L469.7,1442.3 L472.6,1443.0 L475.5,1443.7 L478.4,1444.5 L481.3,1445.2 L484.2,1445.9 L487.2,1446.6 L490.1,1447.4 L493.0,1448.0 L495.9,1448.7 L498.9,1449.2 L501.8,1449.6 L504.8,1450.0 L507.8,1450.3 L510.8,1450.5 L513.8,1450.8 L516.8,1451.0 L519.8,1451.3 L522.8,1451.5 L525.7,1451.8 L528.7,1452.0 L531.7,1452.3 L534.7,1452.5 L537.7,1452.8 L540.7,1453.0 L543.7,1453.3 L546.7,1453.5 L549.7,1453.8 L552.7,1454.0 L555.7,1454.3 L558.7,1454.5 L561.7,1454.7 L564.6,1455.0 L567.6,1455.2 L570.6,1455.4 L573.6,1455.6 L576.6,1455.8 L579.6,1456.0 L582.6,1456.2 L585.6,1456.4 L588.6,1456.6 L591.6,1456.8 L594.6,1457.0 L597.6,1457.2 L600.6,1457.4 L603.6,1457.6 L606.6,1457.8 L609.6,1458.0 L612.6,1458.2 L615.6,1458.4 L618.6,1458.6 L621.6,1458.8 L624.6,1458.9 L627.6,1459.1 L630.6,1459.1 L633.6,1459.2 L636.6,1459.3 L639.6,1459.4 L642.6,1459.5 L645.6,1459.5 L648.6,1459.6 L651.6,1459.7 L654.6,1459.7 L657.6,1459.8 L660.6,1459.9 L663.6,1460.0 L666.6,1460.0 L669.6,1460.1 L672.6,1460.2 L675.6,1460.3 L678.6,1460.3 L681.6,1460.4 L684.6,1460.5 L687.6,1460.5 L690.6,1460.6 L693.6,1460.6 L696.6,1460.6 L699.6,1460.6 L702.6,1460.6 L705.6,1460.6 L708.6,1460.6 L711.6,1460.6 L714.6,1460.6 L717.6,1460.6 L720.6,1460.6 L723.6,1460.6 L726.6,1460.6 L729.6,1460.6 L732.6,1460.6 L735.6,1460.6 L738.6,1460.6 L741.6,1460.6 L744.6,1460.5 L747.6,1460.5 L750.6,1460.4 L753.7,1460.4 L756.7,1460.3 L759.7,1460.3 L762.7,1460.2 L765.7,1460.2 L768.7,1460.1 L771.7,1460.1 L774.7,1460.0 L777.7,1460.0 L780.7,1459.9 L783.7,1459.9 L786.7,1459.8 L789.7,1459.8 L792.7,1459.7 L795.7,1459.7 L798.7,1459.6 L801.7,1459.6 L804.7,1459.5 L807.7,1459.5 L810.7,1459.4 L813.7,1459.4 L816.7,1459.3 L819.7,1459.3 L822.7,1459.2 L825.7,1459.2 L828.7,1459.1 L831.7,1459.1 L834.7,1459.0 L837.7,1459.0 L840.7,1458.9 L843.7,1458.9 L846.7,1458.8 L849.7,1458.8 L852.7,1458.8 L855.7,1458.8 L858.7,1458.8 L861.7,1458.8 L864.7,1458.7 L867.7,1458.7 L870.7,1458.7 L873.7,1458.7 L876.7,1458.7 L879.7,1458.7 L882.7,1458.7 L885.8,1458.7 L888.8,1458.7 L891.8,1458.7 L894.8,1458.7 L897.8,1458.6 L900.8,1458.6 L903.8,1458.6 L906.8,1458.6 L909.8,1458.6 L912.8,1458.6 L915.8,1458.6 L918.8,1458.6 L921.8,1458.6 L924.8,1458.6 L927.8,1458.6 L930.8,1458.5 L933.8,1458.5 L936.8,1458.5 L939.8,1458.5 L942.8,1458.5 L944.8,1458.5" fill="none" stroke="#00ff00" stroke-width="7" stroke-linejoin="round"/>
<path d="M945.5,1451.2 L948.5,1451.2 L951.5,1451.1 L954.5,1451.1 L957.5,1451.1 L960.5,1451.0 L963.5,1451.0 L966.5,1451.0 L969.5,1450.9 L972.5,1450.9 L975.5,1450.9 L978.5,1450.8 L981.5,1450.8 L984.5,1450.8 L987.5,1450.7 L990.5,1450.7 L993.5,1450.7 L996.5,1450.6 L999.5,1450.6 L1002.5,1450.6 L1005.5,1450.5 L1008.5,1450.5 L1011.5,1450.5 L1014.5,1450.5 L1017.5,1450.4 L1020.5,1450.4 L1023.5,1450.4 L1026.5,1450.3 L1029.6,1450.3 L1032.6,1450.3 L1035.6,1450.2 L1038.6,1450.2 L1041.6,1450.2 L1044.6,1450.1 L1047.6,1450.1 L1050.6,1450.1 L1053.6,1450.0 L1056.6,1450.0 L1059.6,1450.0 L1062.6,1449.9 L1065.6,1449.9 L1068.6,1449.9 L1071.6,1449.8 L1074.6,1449.8 L1077.6,1449.8 L1080.6,1449.7 L1083.6,1449.7 L1086.6,1449.6 L1089.6,1449.6 L1092.6,1449.6 L1095.6,1449.5 L1098.6,1449.5 L1101.6,1449.5 L1104.6,1449.4 L1107.6,1449.4 L1110.6,1449.4 L1113.6,1449.3 L1116.6,1449.3 L1119.6,1449.3 L1122.6,1449.2 L1125.6,1449.2 L1128.6,1449.1 L1131.6,1449.1 L1134.6,1449.1 L1137.6,1449.0 L1140.6,1449.0 L1143.6,1449.0 L1146.6,1448.9 L1149.6,1448.9 L1152.6,1448.9 L1155.6,1448.8 L1158.6,1448.8 L1161.6,1448.7 L1164.6,1448.7 L1167.6,1448.7 L1170.6,1448.6 L1173.6,1448.6 L1176.6,1448.6 L1179.6,1448.5 L1182.6,1448.5 L1185.6,1448.5 L1188.6,1448.4 L1191.6,1448.4 L1194.6,1448.4 L1197.6,1448.3 L1200.7,1448.3 L1203.7,1448.3 L1206.7,1448.2 L1209.7,1448.2 L1212.7,1448.2 L1215.7,1448.1 L1218.7,1448.1 L1221.7,1448.1 L1224.7,1448.0 L1227.7,1448.0 L1230.7,1448.0 L1233.7,1447.9 L1236.7,1447.9 L1239.7,1447.8 L1242.7,1447.8 L1245.7,1447.8 L1248.7,1447.7 L1251.7,1447.7 L1254.7,1447.7 L1257.7,1447.6 L1260.7,1447.6 L1263.7,1447.6 L1266.7,1447.5 L1269.7,1447.5 L1272.7,1447.5 L1275.7,1447.4 L1278.7,1447.4 L1281.7,1447.4 L1284.7,1447.3 L1287.7,1447.3 L1290.7,1447.3 L1293.7,1447.2 L1296.7,1447.2 L1299.7,1447.2 L1302.7,1447.1 L1305.7,1447.1 L1308.7,1447.1 L1311.7,1447.0 L1314.7,1447.0 L1317.7,1447.0 L1320.7,1446.9 L1323.7,1446.9 L1326.7,1446.9 L1329.7,1446.8 L1332.7,1446.8 L1335.7,1446.8 L1338.7,1446.7 L1341.7,1446.7 L1344.7,1446.7 L1347.7,1446.6 L1350.7,1446.6 L1353.7,1446.6 L1356.7,1446.6 L1359.7,1446.5 L1362.7,1446.5 L1365.7,1446.5 L1368.8,1446.4 L1371.8,1446.4 L1374.8,1446.4 L1377.8,1446.4 L1380.8,1446.3 L1383.8,1446.3 L1386.8,1446.3 L1389.8,1446.3 L1392.8,1446.2 L1395.8,1446.2 L1398.8,1446.2 L1401.8,1446.2 L1404.8,1446.1 L1407.8,1446.1 L1410.8,1446.1 L1413.8,1446.1 L1416.8,1446.0 L1419.8,1446.0 L1422.8,1446.0 L1425.8,1445.9 L1428.8,1445.9 L1431.8,1445.9 L1434.8,1445.9 L1437.8,1445.8 L1440.8,1445.8 L1443.8,1445.8 L1446.8,1445.8 L1449.8,1445.7 L1452.8,1445.7 L1455.8,1445.7 L1458.8,1445.7 L1461.8,1445.6 L1464.8,1445.6 L1467.8,1445.6 L1470.8,1445.6 L1473.8,1445.5 L1476.8,1445.5 L1479.8,1445.5 L1482.8,1445.4 L1485.8,1445.4 L1488.8,1445.4 L1491.8,1445.4 L1494.8,1445.3 L1497.8,1445.3 L1500.8,1445.3 L1503.8,1445.3 L1506.8,1445.2 L1509.8,1445.2 L1512.8,1445.2 L1515.8,1445.2 L1518.8,1445.1 L1521.8,1445.1 L1524.8,1445.1 L1527.8,1445.1 L1530.9,1445.0 L1533.9,1445.0 L1536.9,1445.0 L1539.9,1444.9 L1542.9,1444.9 L1545.9,1444.9 L1548.9,1444.9 L1551.9,1444.8 L1554.9,1444.8 L1557.9,1444.8 L1560.9,1444.8 L1563.9,1444.7 L1566.9,1444.7 L1569.9,1444.7 L1572.9,1444.7 L1575.9,1444.6 L1578.9,1444.6 L1581.9,1444.6 L1584.9,1444.6 L1587.9,1444.5 L1590.9,1444.5 L1593.9,1444.5 L1596.9,1444.5 L1599.9,1444.4 L1602.9,1444.4 L1605.9,1444.4 L1608.9,1444.4 L1611.9,1444.3 L1614.9,1444.3 L1617.9,1444.3 L1620.9,1444.3 L1623.9,1444.2 L1626.9,1444.2 L1629.9,1444.2 L1632.9,1444.2 L1635.9,1444.2 L1638.9,1444.1 L1641.9,1444.1 L1644.9,1444.1 L1647.9,1444.1 L1650.9,1444.0 L1653.9,1444.0 L1656.9,1444.0 L1659.9,1444.0 L1662.9,1444.0 L1665.9,1443.9 L1668.9,1443.9 L1671.9,1443.9 L1674.9,1443.9 L1677.9,1443.8 L1680.9,1443.8 L1683.9,1443.8 L1686.9,1443.8 L1690.0,1443.7 L1693.0,1443.7 L1696.0,1443.7 L1699.0,1443.7 L1702.0,1443.7 L1705.0,1443.6 L1708.0,1443.6 L1711.0,1443.6 L1714.0,1443.6 L1717.0,1443.5 L1720.0,1443.5 L1723.0,1443.5 L1726.0,1443.5 L1729.0,1443.4 L1732.0,1443.4 L1735.0,1443.4 L1738.0,1443.4 L1741.0,1443.4 L1744.0,1443.3 L1747.0,1443.3 L1750.0,1443.3 L1753.0,1443.3 L1756.0,1443.2 L1759.0,1443.2 L1762.0,1443.2 L1765.0,1443.2 L1768.0,1443.1 L1771.0,1443.1 L1774.0,1443.1 L1777.0,1443.1 L1780.0,1443.1 L1783.0,1443.0 L1786.0,1443.0 L1789.0,1443.0 L1792.0,1443.0 L1795.0,1442.9 L1798.0,1442.9 L1801.0,1442.9 L1804.0,1442.8 L1807.0,1442.8 L1810.0,1442.7 L1813.0,1442.6 L1816.0,1442.6 L1819.0,1442.5 L1822.0,1442.5 L1825.0,1442.4 L1828.0,1442.3 L1831.0,1442.3 L1834.0,1442.2 L1837.0,1442.2 L1840.0,1442.1 L1843.0,1442.1 L1846.0,1442.0 L1849.0,1441.9 L1852.0,1441.9 L1855.0,1441.8 L1858.0,1441.8 L1861.0,1441.7 L1864.0,1441.6 L1867.1,1441.6 L1870.1,1441.5 L1873.1,1441.5 L1876.1,1441.4 L1879.1,1441.3 L1882.1,1441.3 L1885.1,1441.2 L1888.1,1441.2 L1891.1,1441.1 L1894.1,1441.0 L1897.1,1441.0 L1900.1,1440.9 L1903.1,1440.9 L1906.1,1440.8 L1909.1,1440.8 L1912.1,1440.7 L1915.1,1440.6 L1918.1,1440.6 L1921.1,1440.5 L1924.1,1440.5 L1927.1,1440.4 L1930.1,1440.4 L1933.1,1440.3 L1936.1,1440.3 L1939.1,1440.2 L1942.1,1440.2 L1945.1,1440.2 L1948.1,1440.1 L1951.1,1440.1 L1954.1,1440.0 L1957.1,1440.0 L1960.1,1439.9 L1963.1,1439.9 L1966.1,1439.8 L1969.1,1439.8 L1972.1,1439.8 L1975.1,1439.7 L1978.1,1439.7 L1981.1,1439.6 L1984.1,1439.6 L1987.1,1439.5 L1990.1,1439.5 L1993.1,1439.5 L1996.1,1439.4 L1999.1,1439.4 L2002.1,1439.3 L2005.1,1439.3 L2008.1,1439.2 L2011.1,1439.2 L2014.1,1439.1 L2017.1,1439.1 L2020.1,1439.1 L2023.1,1439.0 L2026.1,1439.0 L2029.1,1438.9 L2032.1,1438.9 L2035.1,1438.8 L2038.1,1438.8 L2041.1,1438.8 L2044.1,1438.7 L2047.1,1438.7 L2050.1,1438.7 L2053.1,1438.6 L2056.2,1438.6 L2059.2,1438.6 L2062.2,1438.6 L2065.2,1438.6 L2068.2,1438.6 L2071.2,1438.5 L2074.2,1438.5 L2077.2,1438.5 L2080.2,1438.5 L2083.2,1438.5 L2086.2,1438.5 L2089.2,1438.4 L2092.2,1438.4 L2095.2,1438.4 L2098.2,1438.4 L2101.2,1438.4 L2104.2,1438.4 L2107.2,1438.3 L2110.2,1438.3 L2113.2,1438.3 L2116.2,1438.3 L2119.2,1438.3 L2122.2,1438.3 L2125.2,1438.2 L2128.2,1438.2 L2131.2,1438.2 L2134.2,1438.2 L2137.2,1438.2 L2140.2,1438.1 L2143.2,1438.1 L2146.2,1438.1 L2149.2,1438.1 L2152.2,1438.1 L2155.2,1438.1 L2158.2,1438.0 L2161.2,1438.0 L2164.2,1438.0 L2167.2,1438.0 L2170.2,1438.0 L2173.2,1438.0 L2176.2,1438.0 L2179.2,1437.9 L2182.2,1437.9 L2185.2,1437.9 L2188.2,1437.9 L2191.2,1437.9 L2194.2,1437.9 L2197.2,1437.9 L2200.2,1437.9 L2203.2,1437.8 L2206.2,1437.8 L2209.2,1437.8 L2212.3,1437.8 L2215.3,1437.8 L2218.3,1437.8 L2221.3,1437.8 L2224.3,1437.8 L2227.3,1437.7 L2230.3,1437.7 L2233.3,1437.7 L2236.3,1437.7 L2239.3,1437.7 L2242.3,1437.7 L2245.3,1437.7 L2248.3,1437.7 L2251.3,1437.7 L2254.3,1437.6 L2257.3,1437.6 L2260.3,1437.6 L2263.3,1437.6 L2266.3,1437.6 L2269.3,1437.6 L2272.3,1437.6 L2275.3,1437.6 L2278.3,1437.5 L2281.3,1437.5 L2284.3,1437.5 L2287.3,1437.5 L2288.3,1437.5" fill="none" stroke="#00ff00" stroke-width="7" stroke-linejoin="round"/>
<path d="M944.8,1459.5L945.5,1450.2" stroke="#00ff00" stroke-width="7" fill="none"/>
<rect x="327.75" y="95.0" width="2012.75" height="1477.50" fill="none" stroke="#000" stroke-width="7.5"/>
<path d="M294,1572.50H327.75 M309,1401.51H327.75 M309,1301.50H327.75 M309,1230.53H327.75 M309,1175.49H327.75 M309,1130.51H327.75 M309,1092.48H327.75 M309,1059.54H327.75 M309,1030.49H327.75 M294,1004.50H327.75 M309,833.51H327.75 M309,733.50H327.75 M309,662.53H327.75 M309,607.49H327.75 M309,562.51H327.75 M309,524.48H327.75 M309,491.54H327.75 M309,462.49H327.75 M294,436.50H327.75 M309,265.51H327.75 M309,165.50H327.75 M309,94.53H327.75 M380.70,1572.5V1606 M539.60,1572.5V1591 M698.50,1572.5V1606 M857.40,1572.5V1591 M1016.30,1572.5V1606 M1175.20,1572.5V1591 M1334.10,1572.5V1606 M1493.00,1572.5V1591 M1651.90,1572.5V1606 M1810.80,1572.5V1591 M1969.70,1572.5V1606 M2128.60,1572.5V1591 M2287.50,1572.5V1606" stroke="#000" stroke-width="6" fill="none"/>
<text transform="translate(380.70 1679.50) scale(0.9770 1)" text-anchor="middle" style="font-family:'Liberation Sans',Arial,sans-serif;font-weight:bold;font-size:72.5px" textLength="40.32" lengthAdjust="spacingAndGlyphs" >0</text>
<text transform="translate(698.50 1679.50) scale(0.9770 1)" text-anchor="middle" style="font-family:'Liberation Sans',Arial,sans-serif;font-weight:bold;font-size:72.5px" textLength="120.95" lengthAdjust="spacingAndGlyphs" >600</text>
<text transform="translate(1016.30 1679.50) scale(0.9770 1)" text-anchor="middle" style="font-family:'Liberation Sans',Arial,sans-serif;font-weight:bold;font-size:72.5px" textLength="161.27" lengthAdjust="spacingAndGlyphs" >1200</text>
<text transform="translate(1334.10 1679.50) scale(0.9770 1)" text-anchor="middle" style="font-family:'Liberation Sans',Arial,sans-serif;font-weight:bold;font-size:72.5px" textLength="161.27" lengthAdjust="spacingAndGlyphs" >1800</text>
<text transform="translate(1651.90 1679.50) scale(0.9770 1)" text-anchor="middle" style="font-family:'Liberation Sans',Arial,sans-serif;font-weight:bold;font-size:72.5px" textLength="161.27" lengthAdjust="spacingAndGlyphs" >2400</text>
<text transform="translate(1969.70 1679.50) scale(0.9770 1)" text-anchor="middle" style="font-family:'Liberation Sans',Arial,sans-serif;font-weight:bold;font-size:72.5px" textLength="161.27" lengthAdjust="spacingAndGlyphs" >3000</text>
<text transform="translate(2287.50 1679.50) scale(0.9770 1)" text-anchor="middle" style="font-family:'Liberation Sans',Arial,sans-serif;font-weight:bold;font-size:72.5px" textLength="161.27" lengthAdjust="spacingAndGlyphs" >3600</text>
<text transform="translate(158.80 462.00) scale(0.9770 1)" text-anchor="start" style="font-family:'Liberation Sans',Arial,sans-serif;font-weight:bold;font-size:72.5px" textLength="80.64" lengthAdjust="spacingAndGlyphs" >10</text>
<text transform="translate(238.10 426.50)" text-anchor="start" style="font-family:'Liberation Sans',Arial,sans-serif;font-weight:normal;font-size:43px" textLength="38.23" lengthAdjust="spacingAndGlyphs" stroke="#000" stroke-width="1.4">-3</text>
<text transform="translate(158.80 1030.00) scale(0.9770 1)" text-anchor="start" style="font-family:'Liberation Sans',Arial,sans-serif;font-weight:bold;font-size:72.5px" textLength="80.64" lengthAdjust="spacingAndGlyphs" >10</text>
<text transform="translate(238.10 994.50)" text-anchor="start" style="font-family:'Liberation Sans',Arial,sans-serif;font-weight:normal;font-size:43px" textLength="38.23" lengthAdjust="spacingAndGlyphs" stroke="#000" stroke-width="1.4">-4</text>
<text transform="translate(158.80 1598.00) scale(0.9770 1)" text-anchor="start" style="font-family:'Liberation Sans',Arial,sans-serif;font-weight:bold;font-size:72.5px" textLength="80.64" lengthAdjust="spacingAndGlyphs" >10</text>
<text transform="translate(238.10 1562.50)" text-anchor="start" style="font-family:'Liberation Sans',Arial,sans-serif;font-weight:normal;font-size:43px" textLength="38.23" lengthAdjust="spacingAndGlyphs" stroke="#000" stroke-width="1.4">-5</text>
<text transform="translate(1244.70 1796.00)" text-anchor="start" style="font-family:'Liberation Sans',Arial,sans-serif;font-weight:bold;font-size:93px" textLength="160.22" lengthAdjust="spacingAndGlyphs" >t / s</text>
<text transform="translate(133.10 929.00) rotate(-90) scale(1.0100 1)" text-anchor="start" style="font-family:'Liberation Sans',Arial,sans-serif;font-weight:bold;font-size:95px" textLength="330.81" lengthAdjust="spacingAndGlyphs" >j / A cm</text>
<text transform="translate(86.70 594.70) rotate(-90)" text-anchor="start" style="font-family:'Liberation Sans',Arial,sans-serif;font-weight:normal;font-size:55.5px" textLength="49.36" lengthAdjust="spacingAndGlyphs" stroke="#000" stroke-width="1.4">-2</text>
<path d="M499.5,164.4H685" stroke="#ff0000" stroke-width="7.5"/>
<text transform="translate(702.70 191.40) scale(0.9820 1)" text-anchor="start" style="font-family:'Liberation Sans',Arial,sans-serif;font-weight:normal;font-size:81px" textLength="220.48" lengthAdjust="spacingAndGlyphs" >CFRP</text>
<path d="M499.5,262.1H685" stroke="#0000ff" stroke-width="7.5"/>
<text transform="translate(702.70 289.05) scale(0.9820 1)" text-anchor="start" style="font-family:'Liberation Sans',Arial,sans-serif;font-weight:normal;font-size:81px" textLength="535.66" lengthAdjust="spacingAndGlyphs" >Glassy Carbon</text>
<path d="M499.5,359.7H685" stroke="#00ff00" stroke-width="7.5"/>
<text transform="translate(702.70 386.70) scale(0.9820 1)" text-anchor="start" style="font-family:'Liberation Sans',Arial,sans-serif;font-weight:normal;font-size:81px" textLength="238.51" lengthAdjust="spacingAndGlyphs" >HOPG</text>
<path d="M1107.5,333.2H2252.6A35,35 0 0 1 2287.6,368.2V1150.8A35,35 0 0 1 2252.6,1185.8H1107.5A35,35 0 0 1 1072.5,1150.8V368.2A35,35 0 0 1 1107.5,333.2Z M1122,350.7H2238.3A32,32 0 0 1 2270.3,382.7V1136.2A32,32 0 0 1 2238.3,1168.2H1122A32,32 0 0 1 1090,1136.2V382.7A32,32 0 0 1 1122,350.7Z" fill="#8000ff" fill-rule="evenodd"/>
<rect x="1401.0" y="609.47" width="199.40" height="384.93" fill="url(#pCF)" stroke="#141414" stroke-width="7.8"/>
<rect x="1697.7" y="727.96" width="200.10" height="266.44" fill="url(#pGC)" stroke="#141414" stroke-width="7.8"/>
<rect x="1997.3" y="814.59" width="197.20" height="179.81" fill="url(#pHO)" stroke="#141414" stroke-width="7.8"/>
<path d="M1501.0,566.6V651.0" stroke="#141414" stroke-width="8.5"/>
<path d="M1450.5,566.6H1551.0M1450.5,651.0H1551.0" stroke="#141414" stroke-width="7.8" stroke-linecap="round"/>
<path d="M1798.0,692.5V761.0" stroke="#141414" stroke-width="8.5"/>
<path d="M1747.5,692.5H1848.5M1747.5,761.0H1848.5" stroke="#141414" stroke-width="7.8" stroke-linecap="round"/>
<path d="M2096.6,788.8V838.5" stroke="#141414" stroke-width="8.5"/>
<path d="M2046.8,788.8H2145.7M2046.8,838.5H2145.7" stroke="#141414" stroke-width="7.8" stroke-linecap="round"/>
<path d="M1352.0,396.5V994.4M1349.25,994.4H2247.8" stroke="#141414" stroke-width="5.5" fill="none"/>
<path d="M1333,994.40H1352.0 M1333,845.55H1352.0 M1333,696.70H1352.0 M1333,547.85H1352.0 M1333,399.00H1352.0 M1500.7,994.4V1013 M1797.8,994.4V1013 M2095.9,994.4V1013" stroke="#141414" stroke-width="5.5" fill="none"/>
<text transform="translate(1328.60 1015.40)" text-anchor="end" style="font-family:Carlito,'Liberation Sans',sans-serif;font-weight:bold;font-size:58px" textLength="29.41" lengthAdjust="spacingAndGlyphs" fill="#141414">0</text>
<text transform="translate(1328.60 866.55)" text-anchor="end" style="font-family:Carlito,'Liberation Sans',sans-serif;font-weight:bold;font-size:58px" textLength="58.80" lengthAdjust="spacingAndGlyphs" fill="#141414">50</text>
<text transform="translate(1328.60 717.70)" text-anchor="end" style="font-family:Carlito,'Liberation Sans',sans-serif;font-weight:bold;font-size:58px" textLength="88.20" lengthAdjust="spacingAndGlyphs" fill="#141414">100</text>
<text transform="translate(1328.60 568.85)" text-anchor="end" style="font-family:Carlito,'Liberation Sans',sans-serif;font-weight:bold;font-size:58px" textLength="88.20" lengthAdjust="spacingAndGlyphs" fill="#141414">150</text>
<text transform="translate(1328.60 420.00)" text-anchor="end" style="font-family:Carlito,'Liberation Sans',sans-serif;font-weight:bold;font-size:58px" textLength="88.20" lengthAdjust="spacingAndGlyphs" fill="#141414">200</text>
<text transform="translate(1501.40 1066.50)" text-anchor="middle" style="font-family:Carlito,'Liberation Sans',sans-serif;font-weight:bold;font-size:56px" textLength="116.69" lengthAdjust="spacingAndGlyphs" fill="#141414">CFRP</text>
<text transform="translate(1798.45 1066.50)" text-anchor="middle" style="font-family:Carlito,'Liberation Sans',sans-serif;font-weight:bold;font-size:56px" textLength="65.33" lengthAdjust="spacingAndGlyphs" fill="#141414">GC</text>
<text transform="translate(2096.60 1066.50)" text-anchor="middle" style="font-family:Carlito,'Liberation Sans',sans-serif;font-weight:bold;font-size:56px" textLength="138.69" lengthAdjust="spacingAndGlyphs" fill="#141414">HOPG</text>
<text transform="translate(1611.60 1151.50)" text-anchor="start" style="font-family:Carlito,'Liberation Sans',sans-serif;font-weight:bold;font-size:56.4px" textLength="373.38" lengthAdjust="spacingAndGlyphs" fill="#141414">Carbon surfaces</text>
<text transform="translate(1188.20 990.80) rotate(-90)" text-anchor="start" style="font-family:Carlito,'Liberation Sans',sans-serif;font-weight:bold;font-size:56.2px" textLength="561.86" lengthAdjust="spacingAndGlyphs" fill="#141414">Charge passed in mC cm</text>
<text transform="translate(1158.60 428.90) rotate(-90)" text-anchor="start" style="font-family:Carlito,'Liberation Sans',sans-serif;font-weight:normal;font-size:38px" textLength="30.91" lengthAdjust="spacingAndGlyphs" fill="#141414" stroke="#141414" stroke-width="1.2">-2</text>
</svg></body></html>
